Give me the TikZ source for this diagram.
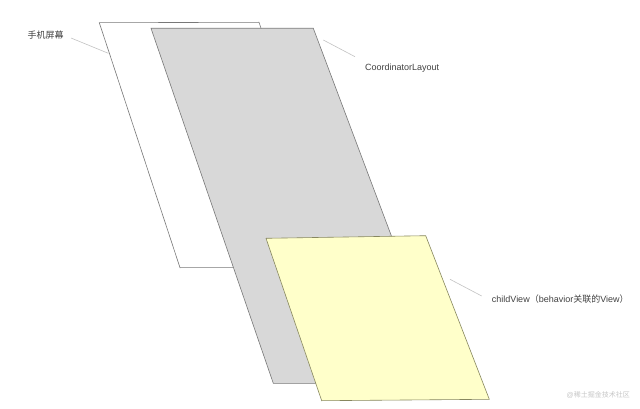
\documentclass[tikz,border=0pt]{standalone}
\usepackage{fontspec}
\setmainfont{Liberation Sans}
\newfontfamily\cjk{Noto Sans CJK SC}
\usepackage{xcolor}
\usepackage{tikz}
\usetikzlibrary{positioning,calc}
\definecolor{LayerGray}{RGB}{216,216,216}
\definecolor{LayerYellow}{RGB}{255,255,202}
\definecolor{EdgeGray}{RGB}{120,120,120}
\definecolor{EdgeOlive}{RGB}{135,135,95}
\definecolor{LeaderGray}{RGB}{195,195,195}
\definecolor{TextGray}{RGB}{65,65,65}
\tikzset{
    layer/.style={draw=EdgeGray, line width=0.6pt, line join=miter},
    leader/.style={draw=LeaderGray, line width=0.6pt},
    tag/.style={text=TextGray, font=\fontsize{9}{11}\selectfont, inner sep=0pt, anchor=west}
}

\begin{document}
\begin{tikzpicture}[
        x=1pt, y=-1pt,
        % --- STYLE RIÊNG ---
        mark_text/.style={
            text=black!22,
            font=\fontsize{7}{8}\selectfont,
            inner sep=0pt,
            anchor=east
        }
    ]
        \useasboundingbox[fill=white] (0,0) rectangle (640,409);

        % --- CÁC LỚP (trắng, xám, vàng) ---
        \draw[layer, fill=white] (99.3,22.7) -- (259,22.3) -- (340.6,267.3) -- (180,267.7) -- cycle;
        \draw[layer, fill=LayerGray] (151,28.3) -- (313.3,28.3) -- (446.8,383.3) -- (273.3,383.3) -- cycle;
        \draw[layer, draw=EdgeOlive, fill=LayerYellow] (266,238.3) -- (425.7,235.7) -- (489.3,399.3) -- (321.7,400.7) -- cycle;

        % --- NHÃN ---
        \node[tag] (lblScreen) at (27.3,35) {\cjk 手机屏幕};
        \node[tag] (lblLayout) at (365,67.7) {CoordinatorLayout};
        \node[tag] (lblChild) at (491.7,299.3) {childView{\cjk （}behavior{\cjk 关联的}View{\cjk ）}};
        \node[mark_text] (mark) at (630,395) {@{\cjk 稀土掘金技术社区}};

        % --- ĐƯỜNG CHỈ ---
        \coordinate (pScreen) at (108.3,53.3);
        \coordinate (pLayout) at (323.3,40);
        \coordinate (pChild) at (450,279.3);
        \draw[leader, shorten <=8pt] (lblScreen.east) -- (pScreen);
        \draw[leader] (pLayout) -- ($(lblLayout.west)+(-10,-11)$);
        \draw[leader] (pChild) -- ($(lblChild.west)+(-10,-3.3)$);

    \end{tikzpicture}
\end{document}
